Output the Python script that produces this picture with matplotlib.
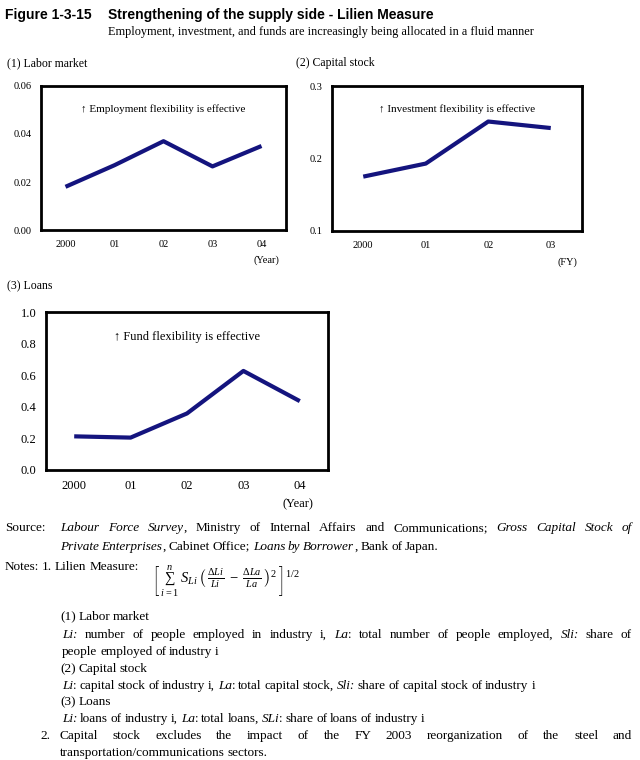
import matplotlib
matplotlib.use("Agg")
import matplotlib.pyplot as plt

# ---- data ----
labor_years = ["2000", "01", "02", "03", "04"]
labor_vals = [0.018, 0.027, 0.037, 0.0265, 0.035]

capital_years = ["2000", "01", "02", "03"]
capital_vals = [0.175, 0.193, 0.251, 0.242]

loan_years = ["2000", "01", "02", "03", "04"]
loan_vals = [0.213, 0.205, 0.358, 0.627, 0.436]

W, H = 640, 760
NAVY = "#14147e"

plt.rcParams["font.family"] = ["Liberation Serif", "DejaVu Serif"]
plt.rcParams["mathtext.fontset"] = "custom"
plt.rcParams["mathtext.rm"] = "Liberation Serif"
plt.rcParams["mathtext.it"] = "Liberation Serif:italic"

fig = plt.figure(figsize=(W / 100, H / 100), dpi=100)
renderer = fig.canvas.get_renderer()


def box(left, top, right, bottom):
    # pixel box (from top-left) -> figure fraction rect
    return [left / W, 1 - bottom / H, (right - left) / W, (bottom - top) / H]


def panel(rect, cats, vals, ylim, yticks, fmt, note, fs, note_fs):
    ax = fig.add_axes(rect)
    ax.plot(range(len(cats)), vals, color=NAVY, lw=3.0, solid_capstyle="butt")
    ax.set_xlim(-0.5, len(cats) - 0.5)
    ax.set_ylim(*ylim)
    ax.set_yticks(yticks)
    ax.set_yticklabels([fmt % v for v in yticks])
    ax.set_xticks(range(len(cats)))
    ax.set_xticklabels(cats)
    ax.tick_params(length=0, labelsize=fs, pad=7)
    for s in ax.spines.values():
        s.set_linewidth(2.0)
    ax.text(0.5, 0.84, "\u2191 " + note, transform=ax.transAxes,
            ha="center", va="center", fontsize=note_fs)
    return ax


def ptext(x, y, s, **kw):
    return fig.text(x / W, 1 - y / H, s, **kw)


def draw_line(x, y, segs, width=None, size=9.5):
    # segs: list of (text, italic); y is the baseline in pixels
    words = []
    pending = False
    for text, it in segs:
        chunks = text.split(" ")
        for k, c in enumerate(chunks):
            if k > 0:
                pending = True
            if c == "":
                continue
            words.append((c, it, pending and len(words) > 0))
            pending = False
    arts = [fig.text(0, 0, w, fontsize=size, va="baseline",
                     style="italic" if it else "normal") for w, it, _ in words]
    widths = [a.get_window_extent(renderer).width for a in arts]
    ngaps = sum(1 for w in words if w[2])
    space = size * 100 / 72 * 0.21
    if width is not None and ngaps:
        space = (width - sum(widths)) / ngaps
    pos = x
    for (w, it, gap), a, wd in zip(words, arts, widths):
        if gap:
            pos += space
        a.set_position((pos / W, 1 - y / H))
        pos += wd


# ---- title ----
title_font = ["Liberation Sans", "DejaVu Sans"]
ptext(5, 19, "Figure 1-3-15", fontsize=10, fontweight="bold",
      family=title_font, va="baseline")
ptext(108, 19, "Strengthening of the supply side - Lilien Measure", fontsize=10,
      fontweight="bold", family=title_font, va="baseline")
ptext(108, 35, "Employment, investment, and funds are increasingly being allocated in a fluid manner",
      fontsize=8.8, va="baseline")

# ---- panels ----
ptext(7, 66, "(1) Labor market", fontsize=8.5, va="baseline")
panel(box(41, 86, 286, 230), labor_years, labor_vals, (0, 0.06),
      [0, 0.02, 0.04, 0.06], "%.2f", "Employment flexibility is effective", 7.5, 8)
ptext(266, 263, "(Year)", fontsize=7.5, ha="center", va="baseline")

ptext(296, 66, "(2) Capital stock", fontsize=8.5, va="baseline")
panel(box(332, 86, 582, 231), capital_years, capital_vals, (0.1, 0.3),
      [0.1, 0.2, 0.3], "%.1f", "Investment flexibility is effective", 7.5, 8)
ptext(567, 265, "(FY)", fontsize=7.5, ha="center", va="baseline")

ptext(7, 289, "(3) Loans", fontsize=8.5, va="baseline")
panel(box(46, 312, 328, 470), loan_years, loan_vals, (0, 1.0),
      [0, 0.2, 0.4, 0.6, 0.8, 1.0], "%.1f", "Fund flexibility is effective", 9, 9)
ptext(298, 507, "(Year)", fontsize=9, ha="center", va="baseline")

# ---- source and notes ----
R = 632
draw_line(5, 531, [("Source:", False)])
draw_line(60, 531, [("Labour Force Survey", True),
                    (", Ministry of Internal Affairs and Communications; ", False),
                    ("Gross Capital Stock of", True)], width=R - 60)
draw_line(60, 550, [("Private Enterprises", True), (", Cabinet Office; ", False),
                    ("Loans by Borrower", True), (", Bank of Japan.", False)])
draw_line(5, 570, [("Notes:", False)])
draw_line(42, 570, [("1. Lilien Measure:", False)])
ptext(152, 581,
      r"$\left[\;\sum_{i=1}^{n}\; S_{Li}\,\left(\,\frac{\Delta Li}{Li}\;-\;\frac{\Delta La}{La}\,\right)^{2}\;\right]^{1/2}$",
      fontsize=10.5, va="center")

draw_line(60, 620, [("(1) Labor market", False)])
draw_line(62, 638, [("Li:", True), (" number of people employed in industry i, ", False),
                    ("La", True), (": total number of people employed, ", False),
                    ("Sli:", True), (" share of", False)], width=R - 62)
draw_line(62, 655, [("people employed of industry i", False)])
draw_line(60, 672, [("(2) Capital stock", False)])
draw_line(62, 689, [("Li", True), (": capital stock of industry i, ", False), ("La", True),
                    (": total capital stock, ", False), ("Sli:", True),
                    (" share of capital stock of industry i", False)])
draw_line(60, 705, [("(3) Loans", False)])
draw_line(62, 722, [("Li:", True), (" loans of industry i, ", False), ("La", True),
                    (": total loans, ", False), ("SLi", True),
                    (": share of loans of industry i", False)])
draw_line(40, 739, [("2.", False)])
draw_line(60, 739, [("Capital stock excludes the impact of the FY 2003 reorganization of the steel and", False)],
          width=R - 60)
draw_line(60, 756, [("transportation/communications sectors.", False)])

fig.savefig("out.png", dpi=100)
